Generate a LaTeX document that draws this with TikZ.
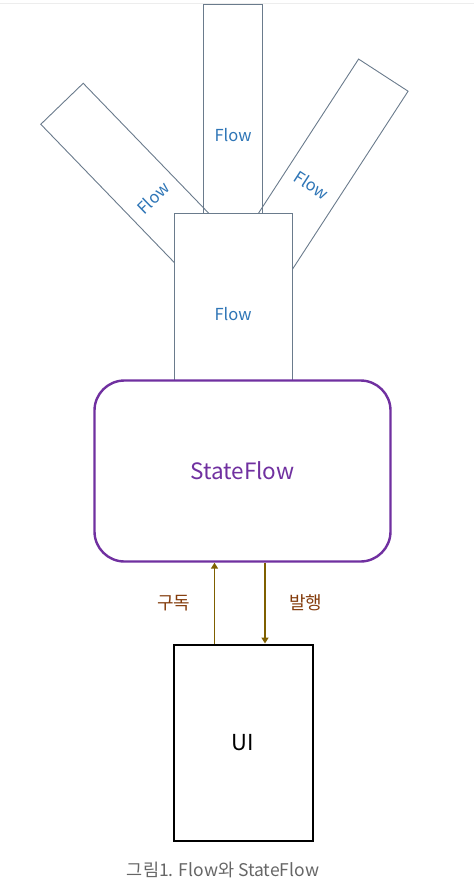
\documentclass[tikz,border=0pt]{standalone}
\usepackage{fontspec}
\setmainfont{Noto Sans CJK KR}
\definecolor{edgegrey}{HTML}{6A7B8C}
\definecolor{flowblue}{HTML}{2E75B6}
\definecolor{statepurple}{HTML}{7030A0}
\definecolor{arrowgold}{HTML}{7F6000}
\definecolor{labelbrown}{HTML}{843C0C}
\definecolor{captiongrey}{HTML}{666666}
\tikzset{
  flowbox/.style={draw=edgegrey, line width=0.9pt, minimum width=59pt, minimum height=262pt,
    text=flowblue, font=\fontsize{16.5}{19}\selectfont},
  link/.style={arrowgold, line width=1.8pt, -{Triangle[length=6pt, width=7pt]}},
}
\usetikzlibrary{arrows.meta}
\begin{document}
\begin{tikzpicture}[x=1pt, y=-1pt]
        \useasboundingbox (0,0) rectangle (474,889);
        \draw[black!7, line width=0.8pt] (0,3) -- (474,3); % faint top rule

        % Flows feeding in, drawn open so the edges cross
        \node[flowbox, rotate=44] (flowleft) at (153,198) {Flow};
        \node[flowbox] (flowtop) at (233,135) {Flow};
        \node[flowbox, rotate=-33] (flowright) at (312,185) {Flow};

        \node[flowbox, fill=white, minimum width=118pt, minimum height=202pt] (flowmain) at (233,314) {Flow};

        \node[draw=statepurple, line width=2.4pt, fill=white, rounded corners=30pt,
          minimum width=296pt, minimum height=181pt, text=statepurple,
          font=\fontsize{22.5}{26}\selectfont] (state) at (242.5,471) {StateFlow};

        \node[draw=black, line width=2pt, minimum width=139pt, minimum height=196pt,
          font=\fontsize{22}{26}\selectfont] (ui) at (243,742.5) {UI};

        \draw[link] ([xshift=-28.5pt]ui.north) -- ([xshift=-28.5pt]ui.north |- state.south) % subscribe
          node[midway, left=20pt, text=labelbrown, font=\fontsize{18}{21}\selectfont] (sub) {구독};
        \draw[link] ([xshift=22pt]ui.north |- state.south) -- ([xshift=22pt]ui.north) % publish
          node[midway, right=20pt, text=labelbrown, font=\fontsize{18}{21}\selectfont] (pub) {발행};

        \node[text=captiongrey, font=\fontsize{17.5}{21}\selectfont] (caption) at (223,870) {그림1. Flow와 StateFlow};
    \end{tikzpicture}
\end{document}
